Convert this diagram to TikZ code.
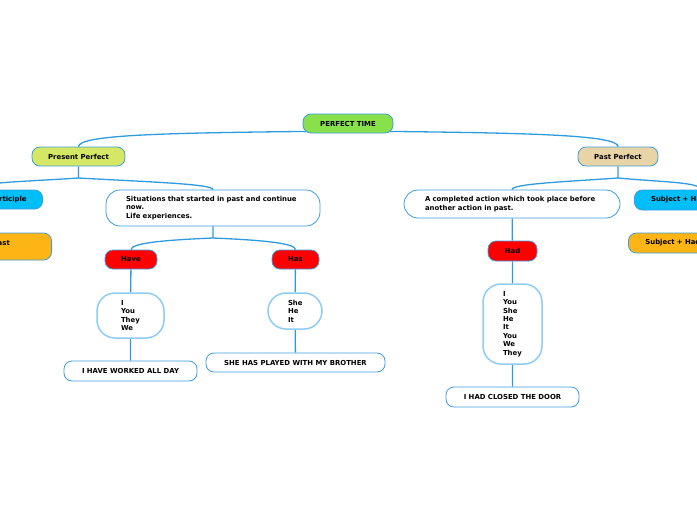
\documentclass[tikz,border=0pt]{standalone}
\usepackage{fontspec}
\setmainfont{DejaVu Sans}
\usetikzlibrary{backgrounds}
\definecolor{lin}{HTML}{2F9BDF}
\definecolor{bord}{HTML}{3E9CDB}
\definecolor{lbord}{HTML}{8ECDF2}
\definecolor{cgreen}{HTML}{88E04A}
\definecolor{cpres}{HTML}{D4E865}
\definecolor{ctan}{HTML}{E8D4A6}
\definecolor{cblue}{HTML}{00BEF7}
\definecolor{corange}{HTML}{FDB515}
\definecolor{cred}{HTML}{FF0000}
\tikzset{
  pill/.style={draw=bord, line width=0.8pt, rounded corners=8pt, inner sep=0pt, text=black},
  textbox/.style={draw=bord, line width=0.8pt, fill=white, rounded corners=14pt, inner ysep=0pt, align=left},
  pron/.style={draw=lbord, line width=1.5pt, fill=white, rounded corners=18pt, inner ysep=0pt, align=left, font=\fontsize{6.9}{8.4}\selectfont\bfseries},
  conn/.style={draw=lin, line width=1.3pt}
}
\begin{document}
\begin{tikzpicture}[x=1pt,y=-1pt,font=\fontsize{6.9}{8.5}\selectfont\bfseries]
\useasboundingbox (0,0) rectangle (697,520);
\clip (0,0) rectangle (697,520);
% nodes
\node[pill, fill=cgreen, minimum width=90, minimum height=19] (root) at (348,123.5) {PERFECT TIME};
\node[pill, fill=cpres, minimum width=93, minimum height=19] (pres) at (78.5,156.5) {Present Perfect};
\node[pill, fill=ctan, minimum width=80, minimum height=19] (past) at (618,156.5) {Past Perfect};
\node[pill, fill=cblue, anchor=east, text width=100, align=right, inner xsep=16pt, minimum height=19] (lb) at (43,199.5) {Participle};
\node[pill, fill=corange, anchor=east, minimum width=130, minimum height=27] (lo) at (52,246.5) {};
\node[anchor=east, inner sep=0pt] (lot) at (10,243) {Past};
\node[pill, fill=cblue, anchor=west, text width=100, align=left, inner xsep=16.7pt, minimum height=20] (rb) at (634,200) {Subject + Had};
\node[pill, fill=corange, anchor=west, text width=100, align=left, inner xsep=17pt, minimum height=20] (ro) at (628,243) {Subject + Had};

\node[textbox, text width=174, inner xsep=20pt, minimum height=36] (sit) at (213,208)
  {Situations that started in past and continue\\now.\\Life experiences.};
\node[textbox, text width=174, inner xsep=21pt, minimum height=28] (comp) at (512,204)
  {A completed action which took place before\\another action in past.};

\node[pill, fill=cred, minimum width=52, minimum height=19] (have) at (131,259.5) {Have};
\node[pill, fill=cred, minimum width=47, minimum height=19] (has) at (295.5,259.5) {Has};
\node[pill, fill=cred, minimum width=49, minimum height=20] (had) at (512.5,251) {Had};

\node[pron, text width=19, inner xsep=24pt, minimum height=45] (havep) at (130.5,315.5) {I\\You\\They\\We};
\node[pron, text width=14, inner xsep=20pt, minimum height=36] (hasp) at (295,311) {She\\He\\It};
\node[pron, text width=19, inner xsep=20pt, minimum height=80] (hadp) at (512.5,324) {I\\You\\She\\He\\It\\You\\We\\They};

\node[pill, fill=white, minimum width=133, minimum height=20] (havee) at (130.5,371) {I HAVE WORKED ALL DAY};
\node[pill, fill=white, minimum width=179, minimum height=19] (hase) at (295.5,362.5) {SHE HAS PLAYED WITH MY BROTHER};
\node[pill, fill=white, minimum width=133, minimum height=20] (hade) at (512.5,397) {I HAD CLOSED THE DOOR};

% connectors
\begin{pgfonlayer}{background}
\draw[conn] ([shift={(6,-2)}]root.south west) .. controls (160,133) and (79,135) .. (pres.north);
\draw[conn] ([shift={(-6,-2)}]root.south east) .. controls (530,133) and (618,135) .. (past.north);
\coordinate (pb) at (78.5,178);
\draw[conn] (pres.south) -- (pb) .. controls (150,182) and (213,184) .. (sit.north);
\draw[conn] (pb) .. controls (20,182) and (-23,182) .. (lb.north);
\coordinate (qb) at (618,178);
\draw[conn] (past.south) -- (qb) .. controls (560,182) and (512,184) .. (comp.north);
\draw[conn] (qb) .. controls (660,182) and (700,182) .. (rb.north);
\coordinate (sb) at (213,238);
\draw[conn] (sit.south) -- (sb) .. controls (165,240) and (131,243) .. (have.north);
\draw[conn] (sb) .. controls (260,240) and (295.5,243) .. (has.north);
\draw[conn] (have) -- (havep) -- (havee);
\draw[conn] (has) -- (hasp) -- (hase);
\draw[conn] (comp) -- (had) -- (hadp) -- (hade);
\end{pgfonlayer}
\end{tikzpicture}
\end{document}
